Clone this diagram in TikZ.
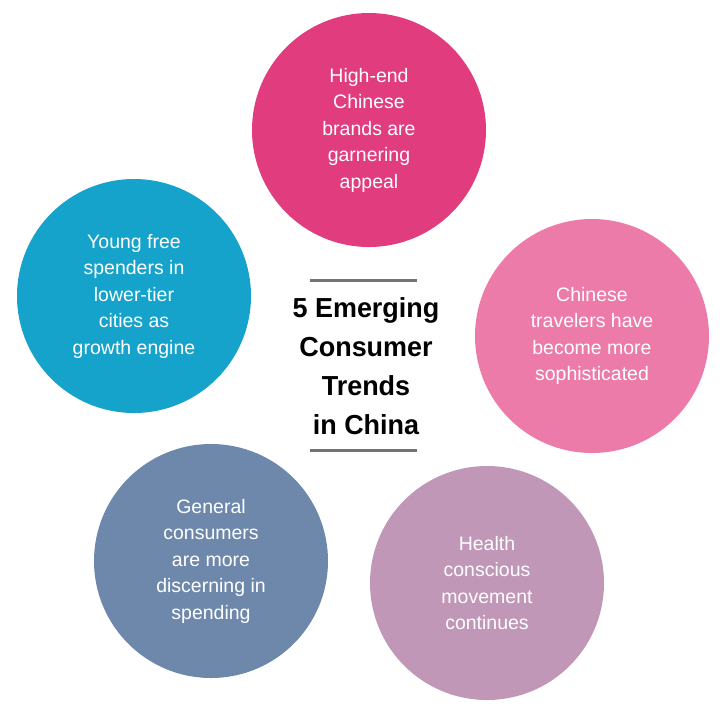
\documentclass[tikz,border=0pt]{standalone}
\usepackage{fontspec}
\setmainfont{Liberation Sans}
\usetikzlibrary{positioning}
\definecolor{trendA}{HTML}{E03C7E}
\definecolor{trendB}{HTML}{EC7BA9}
\definecolor{trendC}{HTML}{C197B8}
\definecolor{trendD}{HTML}{6E88AC}
\definecolor{trendE}{HTML}{16A3CB}
\begin{document}
\begin{tikzpicture}[
x=1pt,y=-1pt,
trend/.style={
    circle,minimum size=234pt,inner sep=0pt,text=white,align=center,
    font=\fontsize{19.5}{26.5}\selectfont
},
rule/.style={line width=3pt,draw=black!55}
]
    \useasboundingbox (0,0) rectangle (728,724);
    \node(T1)[trend,fill=trendA] at (369,130){High-end\\Chinese\\brands are\\garnering\\appeal};
    \node(T2)[trend,fill=trendB] at (592,336){Chinese\\travelers have\\become more\\sophisticated};
    \node(T3)[trend,fill=trendC] at (487,583){Health\\conscious\\movement\\continues};
    \node(T4)[trend,fill=trendD] at (211,561){General\\consumers\\are more\\discerning in\\spending};
    \node(T5)[trend,fill=trendE] at (134,296){Young free\\spenders in\\lower-tier\\cities as\\growth engine};
    \node(title)[align=center,font=\bfseries\fontsize{27.5}{39}\selectfont,xscale=0.98] at (366,366){5 Emerging\\Consumer\\Trends\\in China};
    \coordinate(RA) at (310,280);
    \coordinate(RB) at (417,280);
    \coordinate(RC) at (310,450);
    \coordinate(RD) at (417,450);
    \draw[rule] (RA) -- (RB);
    \draw[rule] (RC) -- (RD);
\end{tikzpicture}
\end{document}
